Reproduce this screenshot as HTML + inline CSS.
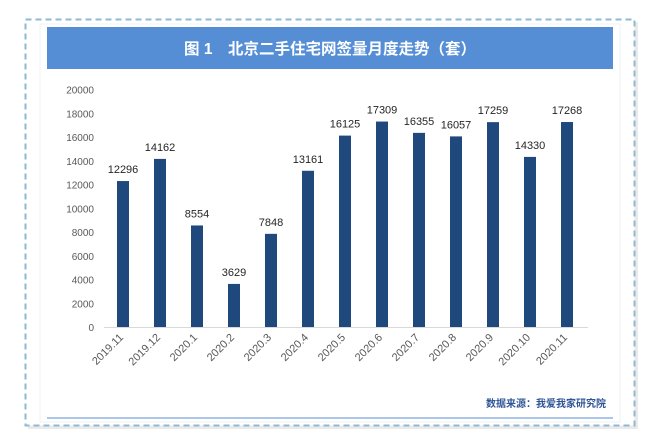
<!DOCTYPE html>
<html><head><meta charset="utf-8"><style>
html,body{margin:0;padding:0;background:#fff;}
body{width:652px;height:444px;position:relative;overflow:hidden;font-family:"Liberation Sans","Noto Sans CJK SC",sans-serif;}
</style></head><body>
<svg width="652" height="444" viewBox="0 0 652 444" xmlns="http://www.w3.org/2000/svg" style="position:absolute;left:0;top:0">
<rect x="28" y="22" width="610" height="407" fill="#dcdcdc" opacity="0.6"/>
<rect x="25.5" y="19.5" width="609" height="406" fill="#fff" stroke="#8fb8d3" stroke-width="2" stroke-dasharray="6,4"/>
<rect x="40" y="24" width="580" height="398" fill="#fff" stroke="#eef2f6" stroke-width="1"/>
<rect x="47" y="27" width="566" height="42" fill="#558ed5"/>
<text x="330" y="54" text-anchor="middle" font-size="15.5" font-weight="bold" fill="#fff" font-family="'Liberation Sans','Noto Sans CJK SC',sans-serif">图 1　北京二手住宅网签量月度走势（套）</text>
<line x1="47" y1="418" x2="613" y2="418" stroke="#8fb3e0" stroke-width="1.5"/>
<text x="606" y="407" text-anchor="end" font-size="10" font-weight="bold" fill="#2f5597" font-family="'Liberation Sans','Noto Sans CJK SC',sans-serif">数据来源：我爱我家研究院</text>
<g font-size="10" fill="#595959" text-anchor="end">
<text x="94" y="331">0</text>
<text x="94" y="307.3">2000</text>
<text x="94" y="283.5">4000</text>
<text x="94" y="259.8">6000</text>
<text x="94" y="236">8000</text>
<text x="94" y="212.3">10000</text>
<text x="94" y="188.6">12000</text>
<text x="94" y="164.9">14000</text>
<text x="94" y="141.1">16000</text>
<text x="94" y="117.4">18000</text>
<text x="94" y="93.7">20000</text>
</g>
<line x1="104" y1="327.5" x2="588" y2="327.5" stroke="#d9d9d9" stroke-width="1"/>
<g id="bars"></g>
</svg>
<script>
var d=[["2019.11",12296],["2019.12",14162],["2020.1",8554],["2020.2",3629],["2020.3",7848],["2020.4",13161],["2020.5",16125],["2020.6",17309],["2020.7",16355],["2020.8",16057],["2020.9",17259],["2020.10",14330],["2020.11",17268]];
var g=document.getElementById("bars"),s="";
d.forEach(function(e,i){var cx=123+37*i,h=e[1]*0.01187,y=327-h;
s+='<rect x="'+(cx-6)+'" y="'+y+'" width="12" height="'+h+'" fill="#1f497d"/>';
s+='<text x="'+cx+'" y="'+(y-8)+'" text-anchor="middle" font-size="11" fill="#262626">'+e[1]+'</text>';
s+='<text transform="translate('+(cx+1)+',338) rotate(-45)" text-anchor="end" font-size="11" fill="#595959">'+e[0]+'</text>';});
g.innerHTML=s;
</script>
</body></html>
